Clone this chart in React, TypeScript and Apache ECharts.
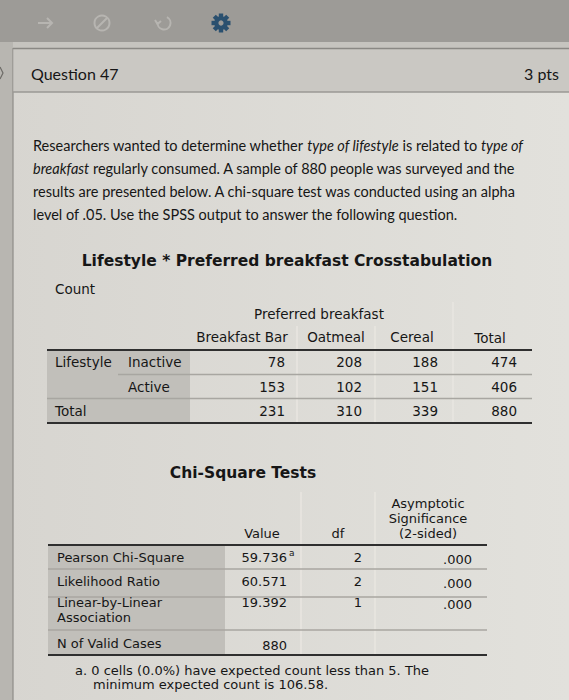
import React, { useEffect, useRef } from "react";
import * as echarts from "echarts";

// ---------- data ----------
const breakfastTypes = ["Breakfast Bar", "Oatmeal", "Cereal"];
const lifestyles = ["Inactive", "Active"];
const inactiveCounts = [78, 208, 188];
const activeCounts = [153, 102, 151];
const rowTotals = [474, 406];
const columnTotals = [231, 310, 339];
const grandTotal = 880;

const chiTests = ["Pearson Chi-Square", "Likelihood Ratio", "Linear-by-Linear\nAssociation"];
const chiValues = ["59.736", "60.571", "19.392"];
const chiDf = [2, 2, 1];
const chiSig = [".000", ".000", ".000"];
const validCases = 880;

const paragraphLines = [
  [["n", "Researchers wanted to determine whether "], ["i", "type of lifestyle"], ["n", " is related to "], ["i", "type of"]],
  [["i", "breakfast"], ["n", " regularly consumed. A sample of 880 people was surveyed and the"]],
  [["n", "results are presented below. A chi-square test was conducted using an alpha"]],
  [["n", "level of .05. Use the SPSS output to answer the following question."]],
];

const footnoteLines = [
  "a. 0 cells (0.0%) have expected count less than 5. The",
  "minimum expected count is 106.58.",
];

// ---------- styling ----------
const LATO = "Lato, 'Open Sans', sans-serif";
const SPSS = "'DejaVu Sans', Verdana, sans-serif";
const INK = "#161616";
const THICK = "#2f2f2f";
const THIN = "#a8a6a1";
const DIV = "#e8e6e1";
const SHADE = "#c1bfba";
const CT_FONT = `13.5px ${SPSS}`;
const CS_FONT = `13px ${SPSS}`;

function txt(x: number, y: number, text: string, opt: any = {}) {
  return {
    type: "text",
    x,
    y,
    silent: true,
    style: {
      text,
      fill: opt.fill || INK,
      font: opt.font || CS_FONT,
      textAlign: opt.align || "left",
      textVerticalAlign: opt.va || "middle",
      lineHeight: opt.lineHeight,
    },
  };
}

function hline(x1: number, x2: number, y: number, color: string, w: number) {
  return { type: "line", silent: true, shape: { x1, y1: y, x2, y2: y }, style: { stroke: color, lineWidth: w } };
}
function vline(x: number, y1: number, y2: number, color: string, w: number) {
  return { type: "line", silent: true, shape: { x1: x, y1, x2: x, y2 }, style: { stroke: color, lineWidth: w } };
}
function rect(x: number, y: number, width: number, height: number, fill: any) {
  return { type: "rect", silent: true, shape: { x, y, width, height }, style: { fill } };
}

function buildOption() {
  const els: any[] = [];

  // page backgrounds
  els.push(
    rect(0, 0, 569, 700, new echarts.graphic.LinearGradient(0, 0, 1, 0, [
      { offset: 0, color: "#d7d5d0" },
      { offset: 1, color: "#e2e1dc" },
    ]))
  );
  els.push(rect(0, 0, 569, 42, "#9d9b97"));
  els.push(rect(0, 42, 569, 6, "#c6c4bf"));
  els.push(rect(0, 42, 13, 658, "#b8b6b1"));
  els.push(vline(13, 48, 700, "#8e8c88", 1.2));
  els.push(rect(13.5, 48, 556, 44, "#cac8c3"));
  els.push(hline(13, 569, 48.5, "#8a8884", 1.5));
  els.push(hline(13, 569, 92, "#9a9894", 1.5));
  els.push({
    type: "polyline",
    silent: true,
    shape: { points: [[0, 67], [3, 73], [0, 79]] },
    style: { stroke: "#6d6b67", lineWidth: 1.2, fill: "none" },
  });

  // toolbar icons
  const iconGray = "#b7b5b1";
  els.push({
    type: "group",
    x: 45,
    y: 23,
    silent: true,
    children: [
      { type: "line", shape: { x1: -7, y1: 0, x2: 7, y2: 0 }, style: { stroke: iconGray, lineWidth: 2 } },
      { type: "polyline", shape: { points: [[2, -5], [7, 0], [2, 5]] }, style: { stroke: iconGray, lineWidth: 2, fill: "none" } },
    ],
  });
  els.push({
    type: "group",
    x: 102,
    y: 23,
    silent: true,
    children: [
      { type: "circle", shape: { cx: 0, cy: 0, r: 7.5 }, style: { stroke: iconGray, lineWidth: 2, fill: "none" } },
      { type: "line", shape: { x1: -5, y1: 5, x2: 5, y2: -5 }, style: { stroke: iconGray, lineWidth: 2 } },
    ],
  });
  els.push({
    type: "group",
    x: 164,
    y: 23,
    silent: true,
    children: [
      { type: "arc", shape: { cx: 0, cy: 0, r: 6.5, startAngle: -Math.PI * 0.35, endAngle: Math.PI * 1.05, clockwise: true }, style: { stroke: iconGray, lineWidth: 2, fill: "none" } },
      { type: "polyline", shape: { points: [[-9, -3], [-6.5, 1], [-3, -2]] }, style: { stroke: iconGray, lineWidth: 2, fill: "none" } },
    ],
  });
  const gearColor = "#2a506f";
  const teeth: any[] = [];
  for (let i = 0; i < 8; i++) {
    teeth.push({
      type: "rect",
      rotation: (i * Math.PI) / 4,
      shape: { x: -2.2, y: -9.5, width: 4.4, height: 5 },
      style: { fill: gearColor },
    });
  }
  els.push({
    type: "group",
    x: 221,
    y: 23,
    silent: true,
    children: [
      ...teeth,
      { type: "circle", shape: { cx: 0, cy: 0, r: 6.8 }, style: { fill: gearColor } },
      { type: "circle", shape: { cx: 0, cy: 0, r: 2.6 }, style: { fill: "#9d9b97" } },
    ],
  });

  // question header
  els.push(txt(31, 73, "Question 47", { font: `16px ${LATO}` }));
  els.push(txt(559, 73, "3 pts", { font: `16px ${LATO}`, align: "right" }));

  // paragraph
  paragraphLines.forEach((segs, i) => {
    const text = segs.map(([k, s]) => `{${k}|${s}}`).join("");
    els.push({
      type: "text",
      x: 33,
      y: 145 + i * 23.3,
      silent: true,
      style: {
        text,
        textVerticalAlign: "middle",
        rich: {
          n: { font: `14.5px ${LATO}`, fill: INK },
          i: { font: `italic 14.5px ${LATO}`, fill: INK },
        },
      },
    });
  });

  // ---------- crosstab ----------
  els.push(txt(287, 261, "Lifestyle * Preferred breakfast Crosstabulation", { font: `bold 15.5px ${SPSS}`, align: "center" }));
  els.push(txt(55, 289, "Count", { font: `13.5px ${SPSS}` }));

  const ctTop = 350, ctBottom = 423, ctLeft = 47, ctRight = 532;
  const rowY = [362, 387, 411];
  const colRight = [285, 362, 438];
  const colCenter = [242, 336, 412];
  const totalRight = 517, totalCenter = 490;

  els.push(rect(ctLeft, ctTop, 190 - ctLeft, ctBottom - ctTop, SHADE));
  els.push(vline(297, 326, ctBottom, DIV, 1.5));
  els.push(vline(375, 326, ctBottom, DIV, 1.5));
  els.push(vline(453, 302, ctBottom, DIV, 1.5));
  els.push(hline(ctLeft, ctRight, ctTop, THICK, 1.8));
  els.push(hline(118, ctRight, 374.5, THIN, 1.3));
  els.push(hline(ctLeft, ctRight, 398.5, THIN, 1.3));
  els.push(hline(ctLeft, ctRight, ctBottom, THICK, 1.8));

  els.push(txt(319, 314, "Preferred breakfast", { align: "center", font: CT_FONT }));
  breakfastTypes.forEach((b, i) => els.push(txt(colCenter[i], 337, b, { align: "center", font: CT_FONT })));
  els.push(txt(totalCenter, 338, "Total", { align: "center", font: CT_FONT }));

  els.push(txt(55, rowY[0], "Lifestyle", { font: CT_FONT }));
  lifestyles.forEach((l, i) => els.push(txt(128, rowY[i], l, { font: CT_FONT })));
  els.push(txt(55, rowY[2], "Total", { font: CT_FONT }));

  [inactiveCounts, activeCounts].forEach((row, r) => {
    row.forEach((v, c) => els.push(txt(colRight[c], rowY[r], String(v), { align: "right", font: CT_FONT })));
    els.push(txt(totalRight, rowY[r], String(rowTotals[r]), { align: "right", font: CT_FONT }));
  });
  columnTotals.forEach((v, c) => els.push(txt(colRight[c], rowY[2], String(v), { align: "right", font: CT_FONT })));
  els.push(txt(totalRight, rowY[2], String(grandTotal), { align: "right", font: CT_FONT }));

  // ---------- chi-square tests ----------
  els.push(txt(243, 473, "Chi-Square Tests", { font: `bold 15.5px ${SPSS}`, align: "center" }));

  const csLeft = 48, csRight = 487, csTop = 545, csBottom = 655;
  els.push(rect(csLeft, csTop, 225 - csLeft, csBottom - csTop, SHADE));
  els.push(vline(301, 492, csBottom, DIV, 1.5));
  els.push(vline(375, 492, csBottom, DIV, 1.5));
  els.push(hline(csLeft, csRight, csTop, THICK, 1.8));
  els.push(hline(csLeft, csRight, 569, THIN, 1.3));
  els.push(hline(csLeft, csRight, 597, THIN, 1.3));
  els.push(hline(csLeft, csRight, 630, THIN, 1.3));
  els.push(hline(csLeft, csRight, csBottom, THICK, 1.8));

  els.push(txt(262, 533, "Value", { align: "center" }));
  els.push(txt(338, 533, "df", { align: "center" }));
  els.push(txt(428, 518, "Asymptotic\nSignificance\n(2-sided)", { align: "center", lineHeight: 15 }));

  const csRowY = [557, 581, 602];
  chiTests.forEach((t, i) => {
    els.push(txt(57, csRowY[i] + (t.includes("\n") ? 7.5 : 0), t, { lineHeight: 15 }));
    els.push(txt(287, csRowY[i], chiValues[i], { align: "right" }));
    els.push(txt(362, csRowY[i], String(chiDf[i]), { align: "right" }));
    els.push(txt(472, csRowY[i] + 2, chiSig[i], { align: "right" }));
  });
  els.push(txt(289, csRowY[0] - 4, "a", { font: `9px ${SPSS}` }));
  els.push(txt(57, 643, "N of Valid Cases"));
  els.push(txt(287, 645, String(validCases), { align: "right" }));

  els.push(txt(75, 670, footnoteLines[0]));
  els.push(txt(93, 684, footnoteLines[1]));

  return {
    animation: false,
    graphic: { elements: els },
  };
}

export default function App() {
  const ref = useRef<HTMLDivElement>(null);
  useEffect(() => {
    if (!ref.current) return;
    const chart = echarts.init(ref.current, null, { renderer: "svg" });
    chart.setOption(buildOption());
    return () => chart.dispose();
  }, []);
  return (
    <div
      ref={ref}
      style={{ position: "absolute", left: 0, top: 0, width: 569, height: 700 }}
    />
  );
}
